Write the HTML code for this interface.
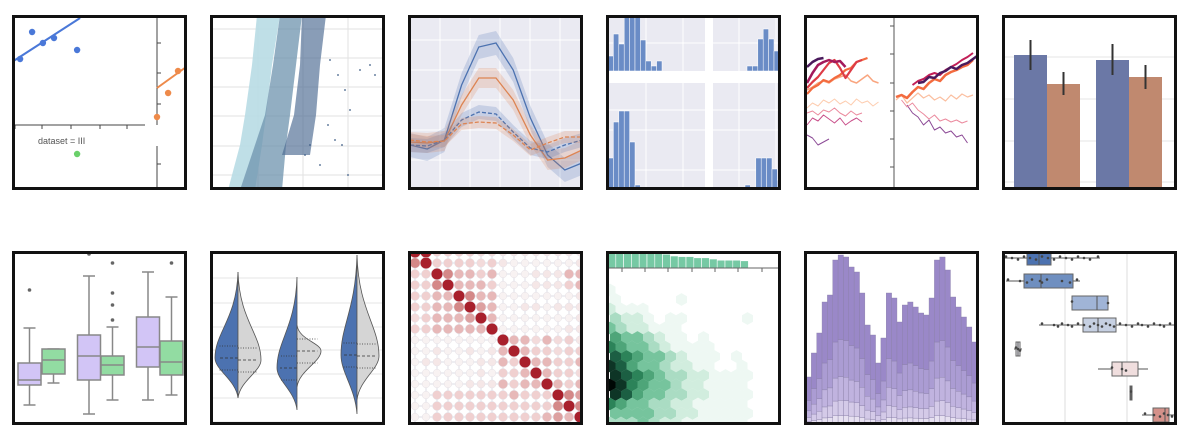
<!DOCTYPE html>
<html><head><meta charset="utf-8">
<style>
html,body{margin:0;padding:0;background:#fff;}
svg{display:block;font-family:"Liberation Sans",sans-serif;}
</style></head>
<body>
<svg id="root" width="1193" height="446" viewBox="0 0 1193 446">
<defs>
<clipPath id="c1"><rect x="12" y="15" width="175" height="175"/></clipPath>
<clipPath id="c2"><rect x="210" y="15" width="175" height="175"/></clipPath>
<clipPath id="c3"><rect x="408" y="15" width="175" height="175"/></clipPath>
<clipPath id="c4"><rect x="606" y="15" width="175" height="175"/></clipPath>
<clipPath id="c5"><rect x="804" y="15" width="175" height="175"/></clipPath>
<clipPath id="c6"><rect x="1002" y="15" width="175" height="175"/></clipPath>
<clipPath id="c7"><rect x="12" y="251" width="175" height="174"/></clipPath>
<clipPath id="c8"><rect x="210" y="251" width="175" height="174"/></clipPath>
<clipPath id="c9"><rect x="408" y="251" width="175" height="174"/></clipPath>
<clipPath id="c10"><rect x="606" y="251" width="175" height="174"/></clipPath>
<clipPath id="c11"><rect x="804" y="251" width="175" height="174"/></clipPath>
<clipPath id="c12"><rect x="1002" y="251" width="175" height="174"/></clipPath>
</defs>
<g id="g1" clip-path="url(#c1)"></g>
<g id="g2" clip-path="url(#c2)"></g>
<g id="g3" clip-path="url(#c3)"></g>
<g id="g4" clip-path="url(#c4)"></g>
<g id="g5" clip-path="url(#c5)"></g>
<g id="g6" clip-path="url(#c6)"></g>
<g id="g7" clip-path="url(#c7)"></g>
<g id="g8" clip-path="url(#c8)"></g>
<g id="g9" clip-path="url(#c9)"></g>
<g id="g10" clip-path="url(#c10)"></g>
<g id="g11" clip-path="url(#c11)"></g>
<g id="g12" clip-path="url(#c12)"></g>
<g id="frames" fill="none" stroke="#111" stroke-width="3">
<rect x="13.5" y="16.5" width="172" height="172"/>
<rect x="211.5" y="16.5" width="172" height="172"/>
<rect x="409.5" y="16.5" width="172" height="172"/>
<rect x="607.5" y="16.5" width="172" height="172"/>
<rect x="805.5" y="16.5" width="172" height="172"/>
<rect x="1003.5" y="16.5" width="172" height="172"/>
<rect x="13.5" y="252.5" width="172" height="171"/>
<rect x="211.5" y="252.5" width="172" height="171"/>
<rect x="409.5" y="252.5" width="172" height="171"/>
<rect x="607.5" y="252.5" width="172" height="171"/>
<rect x="805.5" y="252.5" width="172" height="171"/>
<rect x="1003.5" y="252.5" width="172" height="171"/>
</g>
</svg>
<script>
// ---------- data ----------
const p1BlueX=[2.7,6.7,10.3,14,21.7];
const p1BlueY=[6.6,9.3,8.2,8.7,7.5];
const p1BlueFit=[6.3,10.7];
const p1OrangeX=[3.7,7,0];
const p1OrangeY=[3.2,5.4,0.8];
const p1OrangeFit=[3.7,5.8];
const p1GreenX=[21.7];
const p1GreenY=[3.6];
const p2Levels=[175,130,100,50,0];
const p2LightL=[18,30,35,42,47];
const p2LightR=[45,52,56,62,70];
const p2MidL=[30,45,55,63,70];
const p2MidR=[72,76,80,86,92];
const p2DarkLevels=[140,100,50,0];
const p2DarkL=[72,84,90,92];
const p2DarkR=[100,106,110,116];
const p2SparseX=[120,128,135,140,118,125,132,95,110,100,138,150,160,165];
const p2SparseY=[45,60,75,95,110,125,130,140,150,130,160,55,50,60];
const p3BlueSolid=[45,41,50,105,143,147,120,72,35,20,27];
const p3OrangeSolid=[48,47,49,85,112,112,90,55,30,32,40];
const p3BlueDash=[45,44,50,70,78,76,58,42,38,45,50];
const p3OrangeDash=[50,48,49,66,68,67,55,40,47,53,53];
const p4TL=[15,37,27,54,54,54,31,10,5,10];
const p4TR=[5,5,32,42,32,20];
const p4BL=[30,66,77,77,46,3];
const p4BR=[3,0,30,30,30,19,8];
const p5L1=[52,47,44,43];
const p5L2=[68,58,50,47,45,47,46,52];
const p5L3=[73,67,62,55,48,45,53,63,55,47,45];
const p5L4=[79,73,70,65,67,63,60,55,53,47,45,43];
const p5L5=[75,72,68,66,68,64,62,60,66,68,64,60,66,68];
const p5L6=[93,88,91,85,88,84,89,86,90,84,88,86,91,87];
const p5L7=[98,96,100,95,97,93,98,101,96,100,98];
const p5L8=[110,103,106,100,104,108,103,110,106,103,107];
const p5L9=[120,123,130,127,124];
const p5R1=[68,67,62,63,58,56,52,54,50,48,44,40];
const p5R2=[70,66,64,60,58,60,55,52,49,45,42,38];
const p5R3=[82,80,83,77,72,74,68,64,66,60,57,55,52,50,45];
const p5R4=[85,80,88,83,78,83,80,85,82,86,80,84,79,82,80];
const p5R5=[85,92,88,95,99,104,100,106,104,107,105,108,106];
const p5R6=[90,98,102,110,105,115,112,118,116,122,120,128];
const p6Blue=[133,128];
const p6Brown=[104,111];
const p6BlueErr=[[118,148],[113,144]];
const p6BrownErr=[[93,116],[99,123]];
const p7Q1=[112,98,84,105,66,90];
const p7Q3=[134,123,129,124,116,124];
const p7Med=[129,109,105,114,96,111];
const p7WLo=[154,132,163,149,149,144];
const p7WHi=[77,98,25,76,21,46];
const p7Out=[[39],[],[3],[12,42,54,69],[],[12]];
const p8Left=[[21,107,147,23],[26,117,159,20],[4,104,163,16]];
const p8Right=[[21,109,147,23],[74,100,136,24],[4,105,149,22]];
const p9Rows=["9933332211111111","6933332310000001","3396443400011144","3369444300011134","3344964400000001","3344695400110111","2344459400000001","3344444900000011","0000000094424231","0010010149433233","0110001143944334","0000001033494332","0000011143449434","0033333334333965","0033333333333696","0033333333334549"];
const p10Hist=[26,26,26,26,26,26,26,23,20,19,19,17,17,15,13,13,13,12];
const p10Rows=["1...............","1.....1.........","2111............","3221.11.....1...","4322111.........","5443211.1.......","6544321111......","7654432111.1....","8754432211..1...","8765433221111...","9865443221111...","8754433221111...","6544332211111...","4444332211111...","3334322111111...","2232221111......"];
const p11Totals=[47,71,91,122,129,164,169,167,157,152,131,99,89,61,86,131,126,102,119,122,117,111,109,126,164,167,154,127,117,107,97,82];
const p11Props=[0.05,0.09,0.14,0.22,0.50];
const p12Cy=[7,30,52,74,98,118,142,164];
const p12Q1=[25,22,70,81,14,110,128,151];
const p12Q3=[49,71,106,114,18,136,130,167];
const p12Med=[37,39,95,96,16,120,129,163];
const p12WLo=[2,4,70,37,12,96,128,140];
const p12WHi=[98,78,106,175,20,146,130,173];
const p12Pts=[[4,10,16,22,28,34,40,46,52,58,64,70,76,82,88,96],[6,18,25,30,38,40,45,60,68,75],[70,106],[40,52,56,60,66,70,76,82,88,92,96,100,104,108,112,118,124,130,136,140,146,152,158,162,168],[14,16,18],[110,120,124],[129],[143,152,158,162,166,170]];

// ---------- helpers ----------
const NS='http://www.w3.org/2000/svg';
function mk(tag,attrs,parent){const e=document.createElementNS(NS,tag);for(const k in attrs)e.setAttribute(k,attrs[k]);parent.appendChild(e);return e;}
function hex2rgb(h){return [1,3,5].map(i=>parseInt(h.substr(i,2),16));}
function lerpC(stops,t){t=Math.max(0,Math.min(1,t));const n=stops.length-1;const i=Math.min(n-1,Math.floor(t*n));const f=t*n-i;const a=hex2rgb(stops[i]),b=hex2rgb(stops[i+1]);return 'rgb('+a.map((v,k)=>Math.round(v+(b[k]-v)*f)).join(',')+')';}
const G=id=>document.getElementById(id);

// ---------- P1 ----------
(function(){
const g=G('g1');
const x=v=>12+v*3, y=v=>125-v*10, xr=v=>157+v*3, y3=v=>190-v*10;
mk('rect',{x:12,y:15,width:175,height:175,fill:'#fff'},g);
let a=mk('line',{x1:12,y1:125,x2:145,y2:125,stroke:'#444','stroke-width':1},g);


[15,42,71,100,127].forEach(t=>{const e=mk('line',{x1:t,y1:125,x2:t,y2:129,stroke:'#444'},g);

});
[[15,125],[146,190]].forEach(s=>{const e=mk('line',{x1:157,y1:s[0],x2:157,y2:s[1],stroke:'#444'},g);

});
[43,73,104,164].forEach(t=>{const e=mk('line',{x1:157,y1:t,x2:161,y2:t,stroke:'#444'},g);

});
let l=mk('line',{x1:x(0),y1:y(p1BlueFit[0]),x2:x(22.7),y2:y(p1BlueFit[1]),stroke:'#4a78d8','stroke-width':2},g);


p1BlueX.forEach((v,i)=>{const c=mk('circle',{cx:x(v),cy:y(p1BlueY[i]),r:3.2,fill:'#4a78d8'},g);

});
l=mk('line',{x1:xr(0),y1:y(p1OrangeFit[0]),x2:xr(9.7),y2:y(p1OrangeFit[1]),stroke:'#ee8a4a','stroke-width':2},g);


p1OrangeX.forEach((v,i)=>{const c=mk('circle',{cx:xr(v),cy:y(p1OrangeY[i]),r:3.2,fill:'#ee8a4a'},g);

});
const t=mk('text',{x:38,y:144,'font-size':9,fill:'#555'},g);t.textContent='dataset = III';


p1GreenX.forEach((v,i)=>{const c=mk('circle',{cx:x(v),cy:y3(p1GreenY[i]),r:3.2,fill:'#6ad06a'},g);

});
})();

// ---------- P2 ----------
(function(){
const g=G('g2');const X=v=>210+v,Y=v=>15+v;
mk('rect',{x:210,y:15,width:175,height:175,fill:'#fff'},g);
[29,58,87,116,146,175].forEach(v=>{const e=mk('line',{x1:210,x2:385,y1:v,y2:v,stroke:'#e2e2e2'},g);

});
[258,303,348].forEach(v=>{const e=mk('line',{x1:v,x2:v,y1:15,y2:190,stroke:'#e2e2e2'},g);

});
function cloud(levels,L,R,fill,op,name){const pts=[];levels.forEach((lv,i)=>pts.push(X(L[i])+','+Y(lv)));for(let i=levels.length-1;i>=0;i--)pts.push(X(R[i])+','+Y(levels[i]));
const p=mk('polygon',{points:pts.join(' '),fill:fill,opacity:op},g);

}
cloud(p2Levels,p2LightL,p2LightR,'#b8dbe4',0.9,'light-cloud');
cloud(p2Levels,p2MidL,p2MidR,'#6d93ad',0.75,'mid-cloud');
cloud(p2DarkLevels,p2DarkL,p2DarkR,'#4a6890',0.65,'dark-cloud');
p2SparseX.forEach((v,i)=>{const c=mk('circle',{cx:X(v),cy:Y(p2SparseY[i]),r:0.9,fill:'#3e5d86'},g);

});
})();

// ---------- P3 ----------
(function(){
const g=G('g3');const X=i=>410+i*17.2,Y=v=>190-v;
mk('rect',{x:408,y:15,width:175,height:175,fill:'#eaeaf2'},g);
[440,470,500,530,560].forEach(v=>{const e=mk('line',{x1:v,x2:v,y1:15,y2:190,stroke:'#fff'},g);

});
[40,70,100,130,160].forEach(v=>{const e=mk('line',{x1:408,x2:583,y1:v,y2:v,stroke:'#fff'},g);

});
function series(vals,col,w,dash,name){
const up=vals.map((v,i)=>X(i)+','+Y(v+w)),dn=vals.map((v,i)=>X(i)+','+Y(v-w)).reverse();
const b=mk('polygon',{points:up.concat(dn).join(' '),fill:col,opacity:0.22},g);


const l=mk('polyline',{points:vals.map((v,i)=>X(i)+','+Y(v)).join(' '),fill:'none',stroke:col,'stroke-width':1.3,'stroke-dasharray':dash},g);

}
series(p3BlueSolid,'#4c72b0',12,'','blue-solid');
series(p3OrangeSolid,'#dd8452',10,'','orange-solid');
series(p3BlueDash,'#4c72b0',7,'4,2','blue-dashed');
series(p3OrangeDash,'#dd8452',6,'4,2','orange-dashed');
})();

// ---------- P4 ----------
(function(){
const g=G('g4');
mk('rect',{x:606,y:15,width:175,height:175,fill:'#fff'},g);
const quads=[[606,15,99,56],[713,15,68,56],[606,83,99,107],[713,83,68,107]];
quads.forEach(q=>{const r=mk('rect',{x:q[0],y:q[1],width:q[2],height:q[3],fill:'#eaeaf2'},g);

});
[646,683,739,776].forEach(v=>[[15,71],[83,190]].forEach(s=>{const e=mk('line',{x1:v,x2:v,y1:s[0],y2:s[1],stroke:'#fff'},g);

}));
[43,110,130,170].forEach(v=>[[606,705],[713,781]].forEach(s=>{const e=mk('line',{x1:s[0],x2:s[1],y1:v,y2:v,stroke:'#fff'},g);

}));
function hist(vals,x0,base,name){vals.forEach((v,i)=>{if(!v)return;const r=mk('rect',{x:x0+i*5.4,y:base-v,width:5.4,height:v,fill:'#6a8cc6',stroke:'#fff','stroke-width':0.5},g);

});}
hist(p4TL,608,71,'hist-bar');hist(p4TR,747,71,'hist-bar');hist(p4BL,608,188,'hist-bar');hist(p4BR,745,188,'hist-bar');
})();

// ---------- P5 ----------
(function(){
const g=G('g5');
mk('rect',{x:804,y:15,width:175,height:175,fill:'#fff'},g);
let a=mk('line',{x1:894,x2:894,y1:15,y2:190,stroke:'#555'},g);


[26,54,83,111,139,167].forEach(v=>{const e=mk('line',{x1:890,x2:894,y1:v,y2:v,stroke:'#555'},g);

});
function line(vals,x0,start,col,w,name){const l=mk('polyline',{points:vals.map((v,i)=>(x0+(start+i)*5.5)+','+(15+v)).join(' '),fill:'none',stroke:col,'stroke-width':w,'stroke-linejoin':'round'},g);

}
line(p5L9,807,0,'#8c4a96',1,'series-line');
line(p5L8,807,0,'#c94f8a',1,'series-line');
line(p5L7,807,0,'#eb8a9e',1,'series-line');
line(p5L6,807,0,'#fdcdb0',1,'series-line');
line(p5L5,807,0,'#f9a57f',1.5,'series-line');
line(p5L4,807,0,'#f36b3f',2.2,'series-line');
line(p5L3,807,0,'#dd3b46',2.2,'series-line');
line(p5L2,807,0,'#a3195b',2.5,'series-line');
line(p5L1,807,0,'#4a1a5c',2.5,'series-line');
line(p5R6,896,2,'#8c4a96',1,'series-line');
line(p5R5,896,1,'#eb8a9e',1,'series-line');
line(p5R4,896,0,'#fbbfa0',1.2,'series-line');
line(p5R3,896,0,'#f36b3f',2.5,'series-line');
line(p5R2,896,3,'#c21f57',2,'series-line');
line(p5R1,896,4,'#4a1a5c',2.5,'series-line');
})();

// ---------- P6 ----------
(function(){
const g=G('g6');const Y=v=>188-v;
mk('rect',{x:1002,y:15,width:175,height:175,fill:'#fff'},g);
[57,99,141,182].forEach(v=>{const e=mk('line',{x1:1002,x2:1177,y1:v,y2:v,stroke:'#e6e6e6'},g);

});
const gx=[1014,1096];
p6Blue.forEach((v,i)=>{const r=mk('rect',{x:gx[i],y:Y(v),width:33,height:v,fill:'#6b78a6'},g);


const r2=mk('rect',{x:gx[i]+33,y:Y(p6Brown[i]),width:33,height:p6Brown[i],fill:'#c0896f'},g);


const e=mk('line',{x1:gx[i]+16.5,x2:gx[i]+16.5,y1:Y(p6BlueErr[i][1]),y2:Y(p6BlueErr[i][0]),stroke:'#333','stroke-width':2},g);


const e2=mk('line',{x1:gx[i]+49.5,x2:gx[i]+49.5,y1:Y(p6BrownErr[i][1]),y2:Y(p6BrownErr[i][0]),stroke:'#333','stroke-width':2},g);

});
})();

// ---------- P7 ----------
(function(){
const g=G('g7');const Y=v=>251+v;
mk('rect',{x:12,y:251,width:175,height:174,fill:'#fff'},g);
const cx=[29.5,53.5,89,112.5,148,171.5],cols=['#d2c5f6','#92dca2'];
p7Q1.forEach((q,i)=>{const c=cx[i];
const w=mk('line',{x1:c,x2:c,y1:Y(p7WHi[i]),y2:Y(p7WLo[i]),stroke:'#888','stroke-width':1.5},g);


[p7WHi[i],p7WLo[i]].forEach(v=>{const cap=mk('line',{x1:c-6,x2:c+6,y1:Y(v),y2:Y(v),stroke:'#888','stroke-width':1.5},g);

});
const b=mk('rect',{x:c-11.5,y:Y(q),width:23,height:p7Q3[i]-q,fill:cols[i%2],stroke:'#888','stroke-width':1.5},g);


const m=mk('line',{x1:c-11.5,x2:c+11.5,y1:Y(p7Med[i]),y2:Y(p7Med[i]),stroke:'#888','stroke-width':1.5},g);


p7Out[i].forEach(v=>{const o=mk('circle',{cx:c,cy:Y(v),r:1.8,fill:'#666'},g);

});});
})();

// ---------- P8 ----------
(function(){
const g=G('g8');const Y=v=>251+v;
mk('rect',{x:210,y:251,width:175,height:174,fill:'#fff'},g);
[278,303,327,350,374,398,422].forEach(v=>{const e=mk('line',{x1:210,x2:385,y1:v,y2:v,stroke:'#e4e4e4'},g);

});
const cx=[238,297,357];
function half(c,d,s,fill,name){const t=Y(d[0]),p=Y(d[1]),b=Y(d[2]),hw=d[3];
const dpath='M'+c+','+t+' C'+(c+s*1.5)+','+(t+(p-t)*0.55)+' '+(c+s*hw)+','+(p-(p-t)*0.3)+' '+(c+s*hw)+','+p+' C'+(c+s*hw)+','+(p+(b-p)*0.3)+' '+(c+s*2)+','+(b-(b-p)*0.45)+' '+c+','+b+' Z';
const e=mk('path',{d:dpath,fill:fill,stroke:'#555','stroke-width':0.8},g);


[[-12,'1,1.5'],[0,'3,2'],[12,'1,1.5']].forEach(q=>{const yy=p+q[0];const ln=mk('line',{x1:c,x2:c+s*hw*0.85,y1:yy,y2:yy,stroke:'#333','stroke-width':0.8,'stroke-dasharray':q[1]},g);

});}
cx.forEach((c,i)=>{half(c,p8Left[i],-1,'#4c72b0','violin-left');half(c,p8Right[i],1,'#d5d5d5','violin-right');});
})();

// ---------- P9 ----------
(function(){
const g=G('g9');const X=j=>415+j*11,Y=i=>252+i*11;
mk('rect',{x:408,y:251,width:175,height:174,fill:'#fff'},g);
for(let i=0;i<16;i++){const e=mk('line',{x1:408,x2:583,y1:Y(i),y2:Y(i),stroke:'#dcdce6','stroke-width':1},g);


const e2=mk('line',{x1:X(i),x2:X(i),y1:251,y2:425,stroke:'#dcdce6','stroke-width':1},g);

}
p9Rows.forEach((row,i)=>row.split('').forEach((ch,j)=>{const v=+ch/9;
const c=mk('circle',{cx:X(j),cy:Y(i),r:3.8+v*2,fill:lerpC(['#f8f2f2','#f0d0d0','#d48888','#a8202c'],v),stroke:'#e4e0e6','stroke-width':0.5},g);

}));
})();

// ---------- P10 ----------
(function(){
const g=G('g10');
mk('rect',{x:606,y:251,width:175,height:174,fill:'#fff'},g);
p10Hist.forEach((v,i)=>{const r=mk('rect',{x:608+i*7.8,y:268-v*0.6,width:7.8,height:v*0.6,fill:'#76c9a4',stroke:'#fff','stroke-width':0.6},g);

});
let a=mk('line',{x1:606,x2:781,y1:268,y2:268,stroke:'#666'},g);


[622,645,668,692,715,738,762].forEach(v=>{const e=mk('line',{x1:v,x2:v,y1:268,y2:272,stroke:'#666'},g);

});
const r=6.35,X=(j,i)=>610+j*11+(i%2)*5.5,Y=i=>290+i*9.5;
p10Rows.forEach((row,i)=>row.split('').forEach((ch,j)=>{if(ch==='.')return;const v=(+ch-1)/8;
const cx=X(j,i),cy=Y(i);const pts=[];for(let k=0;k<6;k++){const an=Math.PI/3*k+Math.PI/6;pts.push((cx+r*Math.cos(an)).toFixed(1)+','+(cy+r*Math.sin(an)).toFixed(1));}
const h=mk('polygon',{points:pts.join(' '),fill:lerpC(['#eef8f3','#bfe6d2','#6cbf95','#2f8a5d','#16503a','#000805'],v)},g);

}));
})();

// ---------- P11 ----------
(function(){
const g=G('g11');const Y=v=>424-v;
mk('rect',{x:804,y:251,width:175,height:174,fill:'#fff'},g);
const cols=['#e6e0f0','#d4cae8','#c0b3df','#ab9cd3','#9a88c8'];
p11Totals.forEach((t,i)=>{let acc=0;p11Props.forEach((p,k)=>{const h=t*p;
const r=mk('rect',{x:806+i*5.35,y:Y(acc+h),width:5.35,height:h,fill:cols[k],stroke:'#8a80a8','stroke-width':0.4},g);

acc+=h;});});
})();

// ---------- P12 ----------
(function(){
const g=G('g12');const X=v=>1002+v,Y=v=>251+v;
mk('rect',{x:1002,y:251,width:175,height:174,fill:'#fff'},g);
[1065,1127].forEach(v=>{const e=mk('line',{x1:v,x2:v,y1:251,y2:425,stroke:'#ddd'},g);

});
const cols=['#4c72b0','#6f8fc0','#a0b4d6','#c6d0e2','#e8e8ee','#f0dede','#ead0d0','#d4918a'];
p12Cy.forEach((c,i)=>{
const w=mk('line',{x1:X(p12WLo[i]),x2:X(p12WHi[i]),y1:Y(c),y2:Y(c),stroke:'#555','stroke-width':1},g);


const b=mk('rect',{x:X(p12Q1[i]),y:Y(c)-7,width:Math.max(1,p12Q3[i]-p12Q1[i]),height:14,fill:cols[i],stroke:'#666','stroke-width':1},g);


const m=mk('line',{x1:X(p12Med[i]),x2:X(p12Med[i]),y1:Y(c)-7,y2:Y(c)+7,stroke:'#555'},g);


p12Pts[i].forEach((v,k)=>{const p=mk('circle',{cx:X(v),cy:Y(c)+((k%3)-1)*1.5,r:1.3,fill:'#444'},g);

});});
})();
</script>
</body></html>
